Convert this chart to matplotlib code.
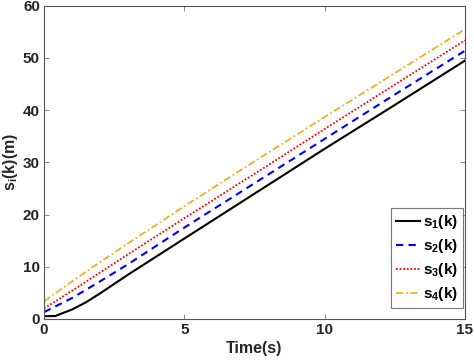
import matplotlib
matplotlib.use("Agg")
import matplotlib.pyplot as plt

# values
t = [0, 0.4, 1, 1.5, 2, 3, 5, 7.5, 10, 12.5, 15]
s1 = [0.5, 0.55, 1.8, 3.2, 4.9, 8.5, 15.4, 24.0, 32.6, 41.0, 49.5]

t2 = [0, 1, 2, 3, 5, 7.5, 10, 12.5, 15]
s2 = [1.3, 4.0, 7.2, 10.5, 17.5, 26.0, 34.5, 43.0, 51.4]
s3 = [2.0, 5.4, 8.9, 12.4, 19.3, 27.8, 36.4, 44.9, 53.4]
s4 = [3.4, 7.2, 10.9, 14.5, 21.6, 30.2, 38.7, 47.1, 55.5]

xticks = [0, 5, 10, 15]
yticks = [0, 10, 20, 30, 40, 50, 60]

plt.rcParams['font.family'] = ['Liberation Sans', 'DejaVu Sans']
plt.rcParams['mathtext.fontset'] = 'custom'
plt.rcParams['mathtext.bf'] = 'Liberation Sans:bold'
plt.rcParams['mathtext.rm'] = 'Liberation Sans:bold'
plt.rcParams['mathtext.it'] = 'Liberation Sans:bold'

fig = plt.figure(figsize=(4.74, 3.64), dpi=100)
ax = fig.add_axes([0.093, 0.124, 0.888, 0.86])

ax.plot(t, s1, color="black", lw=1.5, ls="-", label=r"$\mathbf{s_1(k)}$")
ax.plot(t2, s2, color="#0000ff", lw=1.5, ls=(0, (3.5, 2.5)), label=r"$\mathbf{s_2(k)}$")
ax.plot(t2, s3, color="#ff0000", lw=1.3, ls=(0, (1, 1)), label=r"$\mathbf{s_3(k)}$")
ax.plot(t2, s4, color="#edb120", lw=1.3, ls=(0, (4, 1.5, 1, 1.5)), label=r"$\mathbf{s_4(k)}$")

ax.set_xlim(0, 15)
ax.set_ylim(0, 60)
ax.set_xticks(xticks)
ax.set_yticks(yticks)

gray = "#262626"
for sp in ax.spines.values():
    sp.set_color("#555555")
    sp.set_linewidth(0.8)
ax.tick_params(direction="in", top=True, right=True, length=3.5, width=0.6,
               colors="#777777", labelcolor=gray, labelsize=11, pad=3)
for lb in ax.get_xticklabels() + ax.get_yticklabels():
    lb.set_fontweight("bold")

ax.set_xlabel("Time(s)", fontsize=11.5, fontweight="bold", color=gray, labelpad=3)
ax.set_ylabel(r"$\mathbf{s_i(k)(m)}$", fontsize=11.5, color=gray, labelpad=2)

leg = ax.legend(loc="lower right", bbox_to_anchor=(0.995, 0.035), fontsize=11,
                frameon=True, fancybox=False, handlelength=1.6,
                handletextpad=0.2, borderpad=0.3, labelspacing=0.4,
                borderaxespad=0)
leg.get_frame().set_edgecolor("#555555")
leg.get_frame().set_linewidth(0.8)

plt.savefig("out.png", dpi=100)
